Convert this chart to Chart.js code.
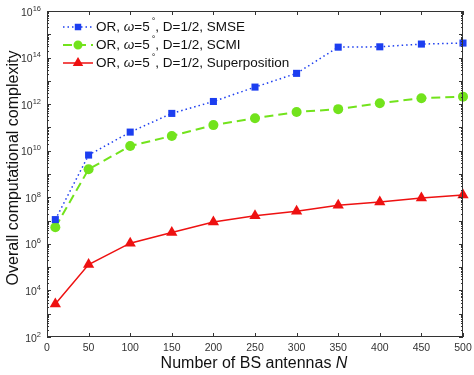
<!DOCTYPE html>
<html>
<head>
<meta charset="utf-8">
<script src="https://cdn.jsdelivr.net/npm/chart.js@4/dist/chart.umd.min.js"></script>
<style>
  html, body { margin: 0; padding: 0; background: #fff; }
  #wrap { width: 474px; height: 375px; position: relative; }
</style>
</head>
<body>
<div id="wrap"><canvas id="c"></canvas></div>
<script>
const antennas = [10, 50, 100, 150, 200, 250, 300, 350, 400, 450, 500];
const smse = [1.1e7, 6.5e9, 6.3e10, 4e11, 1.3e12, 5.4e12, 2.1e13, 2.8e14, 2.9e14, 3.8e14, 4.2e14];
const scmi = [5.2e6, 1.6e9, 1.6e10, 4.3e10, 1.26e11, 2.5e11, 4.6e11, 6.1e11, 1.1e12, 1.8e12, 2.1e12];
const superposition = [2.6e3, 1.3e5, 1.07e6, 3.1e6, 8.7e6, 1.6e7, 2.5e7, 4.6e7, 6.3e7, 9.3e7, 1.26e8];
const seriesNames = ["SMSE", "SCMI", "Superposition"];
const xTicks = [0, 50, 100, 150, 200, 250, 300, 350, 400, 450, 500];
const yLabelExps = [2, 4, 6, 8, 10, 12, 14, 16];

const FONT = "'Liberation Sans', Arial, Helvetica, sans-serif";

function toPoints(vals) {
  return antennas.map((n, i) => ({ x: n, y: vals[i] }));
}

// axes box, ticks, labels and legend drawn on top
const decorPlugin = {
  id: "decor",
  afterDraw(chart) {
    const ctx = chart.ctx;
    const a = chart.chartArea;
    const xs = chart.scales.x, ys = chart.scales.y;
    ctx.save();
    ctx.strokeStyle = "#333";
    ctx.lineWidth = 1;
    ctx.strokeRect(a.left + 0.5, a.top + 0.5, a.right - a.left - 1, a.bottom - a.top - 1);

    // x ticks
    ctx.beginPath();
    xTicks.forEach(v => {
      const px = Math.round(xs.getPixelForValue(v)) + 0.5;
      ctx.moveTo(px, a.bottom); ctx.lineTo(px, a.bottom - 4);
      ctx.moveTo(px, a.top); ctx.lineTo(px, a.top + 4);
    });
    // y ticks, major each decade, minor 2..9
    for (let e = 2; e <= 16; e++) {
      const py = Math.round(ys.getPixelForValue(Math.pow(10, e))) + 0.5;
      ctx.moveTo(a.left, py); ctx.lineTo(a.left + 4, py);
      ctx.moveTo(a.right, py); ctx.lineTo(a.right - 4, py);
      if (e < 16) {
        for (let m = 2; m <= 9; m++) {
          const pm = Math.round(ys.getPixelForValue(m * Math.pow(10, e))) + 0.5;
          ctx.moveTo(a.left, pm); ctx.lineTo(a.left + 2, pm);
          ctx.moveTo(a.right, pm); ctx.lineTo(a.right - 2, pm);
        }
      }
    }
    ctx.stroke();

    // x tick labels
    ctx.fillStyle = "#333";
    ctx.font = "10.5px " + FONT;
    ctx.textAlign = "center";
    ctx.textBaseline = "middle";
    xTicks.forEach(v => {
      ctx.fillText(String(v), xs.getPixelForValue(v), a.bottom + 11);
    });

    // y tick labels 10^k
    yLabelExps.forEach(e => {
      const py = ys.getPixelForValue(Math.pow(10, e));
      ctx.textBaseline = "alphabetic";
      ctx.textAlign = "left";
      ctx.font = "7.5px " + FONT;
      const ew = ctx.measureText(String(e)).width;
      ctx.font = "10.5px " + FONT;
      const bw = ctx.measureText("10").width;
      const right = a.left - 6;
      ctx.fillText("10", right - ew - bw, py + 4.5);
      ctx.font = "7.5px " + FONT;
      ctx.fillText(String(e), right - ew, py - 0.5);
    });

    // axis titles
    ctx.fillStyle = "#111";
    ctx.textBaseline = "middle";
    ctx.textAlign = "left";
    const t1 = "Number of BS antennas ";
    ctx.font = "16px " + FONT;
    const w1 = ctx.measureText(t1).width;
    ctx.font = "italic 16px " + FONT;
    const w2 = ctx.measureText("N").width;
    let sx = 254 - (w1 + w2) / 2;
    ctx.font = "16px " + FONT;
    ctx.fillText(t1, sx, 364);
    ctx.font = "italic 16px " + FONT;
    ctx.fillText("N", sx + w1, 364);

    ctx.save();
    ctx.translate(14, 168);
    ctx.rotate(-Math.PI / 2);
    ctx.textAlign = "center";
    ctx.font = "16px " + FONT;
    ctx.fillText("Overall computational complexity", 0, 0);
    ctx.restore();

    // legend
    const rows = [27, 45, 63];
    chart.data.datasets.forEach((ds, i) => {
      const y = rows[i];
      ctx.save();
      ctx.strokeStyle = ds.borderColor;
      ctx.lineWidth = ds.borderWidth;
      ctx.setLineDash(ds.borderDash || []);
      ctx.beginPath();
      ctx.moveTo(63, y); ctx.lineTo(93, y);
      ctx.stroke();
      ctx.setLineDash([]);
      ctx.fillStyle = ds.pointBackgroundColor;
      ctx.strokeStyle = ds.pointBackgroundColor;
      Chart.helpers.drawPoint(ctx, { pointStyle: ds.pointStyle, radius: ds.pointRadius * 0.7, rotation: 0, borderWidth: 1 }, 78, y);
      ctx.restore();

      ctx.fillStyle = "#111";
      ctx.textBaseline = "middle";
      ctx.textAlign = "left";
      let x = 96;
      const put = (txt, font, dy) => {
        ctx.font = font;
        ctx.fillText(txt, x, y + (dy || 0));
        x += ctx.measureText(txt).width;
      };
      const fn = "13.5px " + FONT;
      put("OR, ", fn);
      put("\u03c9", "italic 13.5px " + FONT);
      put("=5", fn);
      x += 2;
      put("\u00b0", "9px " + FONT, -5);
      put(", D=1/2, " + seriesNames[i], fn);
    });
    ctx.restore();
  }
};

new Chart(document.getElementById("c"), {
  type: "line",
  data: {
    datasets: [
      {
        label: seriesNames[0],
        data: toPoints(smse),
        borderColor: "#1c3ef0",
        borderWidth: 1.5,
        borderDash: [1.5, 3],
        pointStyle: "rect",
        pointRadius: 5,
        pointBackgroundColor: "#1c3ef0",
        pointBorderColor: "#1c3ef0",
        pointBorderWidth: 0
      },
      {
        label: seriesNames[1],
        data: toPoints(scmi),
        borderColor: "#72e31c",
        borderWidth: 2,
        borderDash: [9, 5],
        pointStyle: "circle",
        pointRadius: 5,
        pointBackgroundColor: "#72e31c",
        pointBorderColor: "#72e31c",
        pointBorderWidth: 0
      },
      {
        label: seriesNames[2],
        data: toPoints(superposition),
        borderColor: "#ee1111",
        borderWidth: 1.5,
        pointStyle: "triangle",
        pointRadius: 6.5,
        pointBackgroundColor: "#ee1111",
        pointBorderColor: "#ee1111",
        pointBorderWidth: 0
      }
    ]
  },
  options: {
    responsive: true,
    maintainAspectRatio: false,
    animation: false,
    layout: { padding: { left: 47, right: 11, top: 11, bottom: 38 } },
    plugins: { legend: { display: false }, tooltip: { enabled: false } },
    scales: {
      x: { type: "linear", min: 0, max: 500, display: false },
      y: { type: "logarithmic", min: 1e2, max: 1e16, display: false }
    },
    clip: false
  },
  plugins: [decorPlugin]
});
</script>
</body>
</html>
